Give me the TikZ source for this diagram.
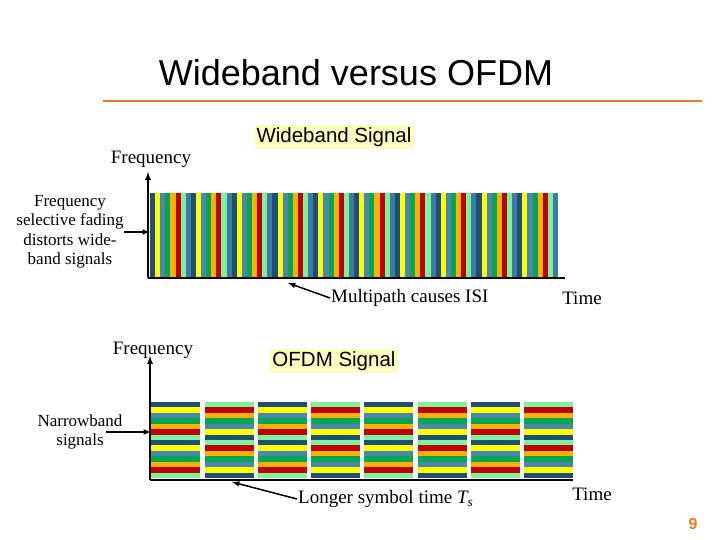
\documentclass[tikz,border=0pt]{standalone}
\usepackage{fontspec}
\setmainfont{Liberation Serif}
\newfontfamily\arialf{Liberation Sans}
\begin{document}
\begin{tikzpicture}[x=1pt,y=-1pt,
  lbl/.style={font=\fontsize{19}{21}\selectfont, align=center, inner sep=1pt},
  hl/.style={font=\arialf\fontsize{20.5}{22}\selectfont, fill=yellow!25, inner sep=2pt},
  ax/.style={line width=1.8pt},
  arr/.style={line width=1.5pt,-latex}]
\definecolor{c1}{HTML}{1F4E79}\definecolor{c2}{HTML}{FFFF00}\definecolor{c3}{HTML}{4A86B0}
\definecolor{c4}{HTML}{00A650}\definecolor{c5}{HTML}{FFB000}\definecolor{c6}{HTML}{C00000}
\definecolor{c7}{HTML}{7CF29A}\definecolor{c8}{HTML}{3A7CA5}
\useasboundingbox (0,0) rectangle (720,540);
\node[font=\arialf\fontsize{36}{40}\selectfont] (title) at (356,73) {Wideband versus OFDM};
\draw[color={rgb,255:red,240;green,120;blue,30}, line width=2.5pt] (103,101) -- (702,101);
\foreach \i in {0,...,79} {
  \pgfmathtruncatemacro\k{mod(\i,8)+1}
  \fill[c\k] (150+\i*5.1,193) rectangle (150+\i*5.1+5.1,278);
}
\foreach \b/\x in {0/151,1/205,2/258,3/311,4/364,5/418,6/471,7/524} {
  \foreach \j in {0,...,13} {
    \pgfmathtruncatemacro\k{mod(\b,2)==0 ? mod(\j,7)+1 : 7-mod(\j,7)}
    \pgfmathtruncatemacro\kk{\k==0 ? 1 : \k}
    \fill[c\kk] (\x,402+\j*5.43) rectangle (\x+49,402+\j*5.43+5.43);
  }
}
\coordinate (o1) at (148,278); \coordinate (y1) at (148,172); \coordinate (x1) at (565,278);
\coordinate (o2) at (150,480); \coordinate (y2) at (150,356); \coordinate (x2) at (573,480);
\draw[ax] (x1) -- (o1); \draw[ax,-latex] (o1) -- (y1);
\draw[ax] (x2) -- (o2); \draw[ax,-latex] (o2) -- (y2);
\node[hl] (wb) at (334,137) {Wideband Signal};
\node[hl] (of) at (334,361) {OFDM Signal};
\node[lbl] (f1) at (151,159) {Frequency};
\node[lbl] (f2) at (153,350) {Frequency};
\node[lbl] (t1) at (582,298) {Time};
\node[lbl] (t2) at (592,494) {Time};
\node[lbl, font=\fontsize{17}{19.5}\selectfont] (sf) at (70,232) {Frequency\\selective fading\\distorts wide-\\band signals};
\node[lbl, font=\fontsize{17}{19.5}\selectfont] (nb) at (80,432) {Narrowband\\signals};
\node[lbl, anchor=west] (mp) at (330,298) {Multipath causes ISI};
\node[lbl, anchor=west] (ls) at (297,499) {Longer symbol time \textit{T\textsubscript{s}}};
\draw[arr] (124,232) -- (150,232);
\draw[arr] (106,432) -- (151,432);
\draw[arr] (mp.west) -- (288,283);
\draw[arr] (ls.west) -- (232,482);
\node[font=\arialf\bfseries\fontsize{16}{18}\selectfont, text={rgb,255:red,240;green,120;blue,30}] (pg) at (693,524) {9};
\end{tikzpicture}
\end{document}
